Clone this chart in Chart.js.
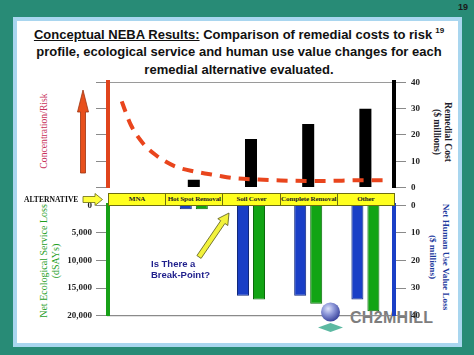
<!DOCTYPE html>
<html><head><meta charset="utf-8">
<script src="https://cdn.jsdelivr.net/npm/chart.js@4"></script>
<style>
html,body{margin:0;padding:0;}
body{width:474px;height:355px;background:#288b76;position:relative;overflow:hidden;font-family:"Liberation Sans",Arial,sans-serif;}
.abs{position:absolute;}
#panel{left:13px;top:17px;width:449px;height:330px;background:#fff;border:4px solid #a9d6ef;box-sizing:border-box;}
#pnum{left:458px;top:2px;font:bold 9px "Liberation Sans",Arial,sans-serif;color:#1a1a1a;}
#title{left:14px;top:25.5px;width:450px;text-align:center;font:bold 13px "Liberation Sans",Arial,sans-serif;line-height:17.5px;color:#111;}
#title u{text-decoration:underline;}
#title sup{font-size:8px;vertical-align:6px;line-height:0;margin-left:3px;}
canvas{position:absolute;left:0;}
#band{left:108px;top:193px;width:287px;height:13px;background:#ffff1e;border:1px solid #6e6e10;box-sizing:border-box;display:flex;z-index:3;}
#band div{flex:1 1 0;min-width:0;text-align:center;font:bold 7.1px "Liberation Serif","Times New Roman",serif;letter-spacing:-0.15px;color:#222;line-height:11px;white-space:nowrap;}
#band div+div{border-left:1px solid #6e6e10;}
.rot{position:absolute;white-space:nowrap;text-align:center;font-family:"Liberation Serif","Times New Roman",serif;}
#alt{left:24px;top:194px;font:bold 7.6px "Liberation Serif","Times New Roman",serif;color:#111;line-height:11px;}
#bp{left:151px;top:258px;font:bold 9.5px "Liberation Sans",Arial,sans-serif;color:#1f1f8c;line-height:11px;}
#logo{left:350px;top:309px;font:bold 16px "Liberation Sans",Arial,sans-serif;color:#7d7d7d;letter-spacing:0.3px;line-height:18px;z-index:1;}
svg{position:absolute;left:0;top:0;}
</style>
</head>
<body>
<div id="panel" class="abs"></div>
<div id="pnum" class="abs">19</div>
<div id="title" class="abs"><u>Conceptual NEBA Results:</u> Comparison of remedial costs to risk<sup>19</sup><br>profile, ecological service and human use value changes for each<br>remedial alternative evaluated.</div>

<div class="rot" style="left:44px;top:131px;transform:translate(-50%,-50%) rotate(-90deg);font-size:9.7px;color:#c8305a;line-height:12px;">Concentration/Risk</div>
<div class="rot" style="left:50px;top:261px;transform:translate(-50%,-50%) rotate(-90deg);font-size:10px;color:#1fa01f;line-height:12px;">Net Ecological Service Loss<br>(dSAYs)</div>
<div class="rot" style="left:442.5px;top:131.5px;transform:translate(-50%,-50%) rotate(90deg);font-size:9.6px;font-weight:bold;color:#1c1c2a;line-height:11px;">Remedial Cost<br>($ millions)</div>
<div class="rot" style="left:438.5px;top:256.5px;transform:translate(-50%,-50%) rotate(90deg);font-size:9.2px;font-weight:bold;color:#1d3a9e;line-height:13px;">Net Human Use Value Loss<br>($ millions)</div>

<svg width="474" height="355" style="z-index:0">
  <defs>
    <radialGradient id="sph" cx="0.38" cy="0.33" r="0.7">
      <stop offset="0" stop-color="#dfe3fb"/>
      <stop offset="0.45" stop-color="#8c96d8"/>
      <stop offset="1" stop-color="#37419a"/>
    </radialGradient>
  </defs>
  <polygon points="318,327.5 330.5,323 343,327.5 330.5,332" fill="#5db9a2"/>
</svg>
<div id="logo" class="abs">CH2MHILL</div>

<canvas id="top" width="474" height="126" style="top:72px;z-index:2"></canvas>
<canvas id="bot" width="474" height="131" style="top:195px;z-index:2"></canvas>

<svg width="474" height="355" style="z-index:4;pointer-events:none">
  <polygon points="83,90 88.5,112 85.5,112 85.5,173 80.5,173 80.5,112 77.5,112" fill="#e8501c" stroke="#9c3210" stroke-width="0.8"/>
  <polygon points="83,196.5 95,196.5 95,193.5 102.5,199.5 95,205.5 95,202.5 83,202.5" fill="#ffff3c" stroke="#6a6a10" stroke-width="0.8"/>
  <polygon points="201.1,258.4 224.9,223.5 227.8,225.5 229,213 217.8,218.7 220.7,220.7 196.9,255.6" fill="#f2f23c" stroke="#55551a" stroke-width="0.8"/>
  <circle cx="330.5" cy="312" r="9.5" fill="url(#sph)"/>
</svg>

<div id="alt" class="abs" style="z-index:4">ALTERNATIVE</div>
<div id="band" class="abs"></div>
<div id="bp" class="abs" style="z-index:4">Is There a<br>Break-Point?</div>

<script>
// ---- data ----
const categories = ['MNA', 'Hot Spot Removal', 'Soil Cover', 'Complete Removal', 'Other'];
const remedialCost = [0, 3, 18.5, 24.2, 30];                 // $ millions
const riskCurveX = [-0.26, -0.2, -0.1, 0.11, 0.34, 0.67, 1.02, 1.39, 1.7, 2.1, 2.52, 3.22, 3.96, 4.31]; // position along alternatives
const riskCurveY = [32.8, 29.2, 23.8, 16.9, 12.3, 8.1, 6.1, 4.7, 3.6, 3.1, 2.7, 2.5, 2.8, 2.8];
const humanUseLoss = [0, 1.4, 32.8, 32.8, 34.2];             // $ millions
const ecoServiceLoss = [0, 700, 17100, 17850, 19200];        // dSAYs
const costTicks = [0, 10, 20, 30, 40];
const ecoTicks = [0, 5000, 10000, 15000, 20000];

// category band (real text)
const band = document.getElementById('band');
categories.forEach(c => { const d = document.createElement('div'); d.textContent = c; band.appendChild(d); });

const SERIF = '"Liberation Serif","Times New Roman",serif';
const tickFont = {family: SERIF, size: 9, weight: 'bold'};
const setTicks = arr => (s => { s.ticks = arr.map(v => ({value: v})); });

new Chart(document.getElementById('top'), {
  type: 'bar',
  data: {
    labels: categories,
    datasets: [
      {type: 'line', label: 'Concentration/Risk', data: riskCurveX.map((x, i) => ({x: x, y: riskCurveY[i]})),
       xAxisID: 'xl', yAxisID: 'yR', borderColor: '#e9451d', borderWidth: 4, borderDash: [11, 8],
       pointRadius: 0, cubicInterpolationMode: 'monotone', fill: false, order: 1},
      {type: 'bar', label: 'Remedial Cost', data: remedialCost, xAxisID: 'x', yAxisID: 'yR',
       backgroundColor: '#000', grouped: false, barPercentage: 0.21, categoryPercentage: 1, order: 2}
    ]
  },
  options: {
    responsive: false, animation: false,
    layout: {padding: {top: 10, bottom: 5, left: 0, right: 0}},
    plugins: {legend: {display: false}, tooltip: {enabled: false}},
    scales: {
      x: {type: 'category', display: false, offset: true},
      xl: {type: 'linear', display: false, offset: false, min: -0.5, max: 4.5},
      xt: {type: 'linear', position: 'top', display: true, offset: false, min: 0, max: 1,
           ticks: {display: false}, grid: {display: false}, border: {display: true, color: '#9a9a9a', width: 1},
           afterFit: s => { s.height = 0; }},
      yL: {type: 'linear', position: 'left', min: 0, max: 40,
           ticks: {display: false},
           grid: {drawOnChartArea: false, tickLength: 12, color: '#8a8a8a', tickColor: '#8a8a8a'},
           border: {color: '#e0441c', width: 4},
           afterBuildTicks: setTicks(costTicks), afterFit: s => { s.width = 108; }},
      yR: {type: 'linear', position: 'right', min: 0, max: 40,
           ticks: {font: tickFont, color: '#222', padding: 5},
           grid: {drawOnChartArea: false, tickLength: 12, color: '#8a8a8a', tickColor: '#8a8a8a'},
           border: {color: '#000', width: 4},
           afterBuildTicks: setTicks(costTicks), afterFit: s => { s.width = 80; }}
    }
  }
});

new Chart(document.getElementById('bot'), {
  type: 'bar',
  data: {
    labels: categories,
    datasets: [
      {label: 'Net Human Use Value Loss', data: humanUseLoss, yAxisID: 'yH',
       backgroundColor: '#1a3fc6', borderColor: '#10287a', borderWidth: 1,
       categoryPercentage: 0.56, barPercentage: 0.75},
      {label: 'Net Ecological Service Loss', data: ecoServiceLoss, yAxisID: 'yE',
       backgroundColor: '#12a414', borderColor: '#0b6a0b', borderWidth: 1,
       categoryPercentage: 0.56, barPercentage: 0.75}
    ]
  },
  options: {
    responsive: false, animation: false,
    layout: {padding: {top: 10, bottom: 10, left: 0, right: 0}},
    plugins: {legend: {display: false}, tooltip: {enabled: false}},
    scales: {
      x: {type: 'category', display: true, ticks: {display: false}, grid: {display: false},
          border: {display: true, color: '#8a8a8a', width: 1.2}, afterFit: s => { s.height = 0; }},
      yE: {type: 'linear', position: 'left', reverse: true, min: 0, max: 20000,
           ticks: {font: tickFont, color: '#222', padding: 4, callback: v => v.toLocaleString('en-US')},
           grid: {drawOnChartArea: false, tickLength: 12, color: '#8a8a8a', tickColor: '#8a8a8a'},
           border: {color: '#17a017', width: 4},
           afterBuildTicks: setTicks(ecoTicks), afterFit: s => { s.width = 108; }},
      yH: {type: 'linear', position: 'right', reverse: true, min: 0, max: 40,
           ticks: {font: tickFont, color: '#222', padding: 5},
           grid: {drawOnChartArea: false, tickLength: 12, color: '#8a8a8a', tickColor: '#8a8a8a'},
           border: {color: '#1a3fc6', width: 4},
           afterBuildTicks: setTicks(costTicks), afterFit: s => { s.width = 80; }}
    }
  }
});
</script>
</body></html>
